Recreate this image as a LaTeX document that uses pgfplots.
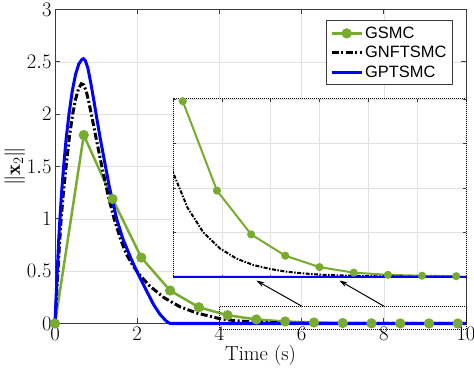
\documentclass[border=0pt]{standalone}
\usepackage{fontspec}
\usepackage{pgfplots}
\pgfplotsset{compat=1.18}
\usepackage{pgfplotstable}
\usetikzlibrary{arrows.meta}
\newfontfamily\legfont{Liberation Sans}
\definecolor{mgreen}{RGB}{119,172,48}
\definecolor{mblue}{RGB}{0,0,255}
\definecolor{gridc}{RGB}{225,225,225}
\definecolor{axc}{RGB}{60,60,60}

\pgfplotstableread{
x y
0 0
0.7 1.80
1.4 1.19
2.1 0.63
2.8 0.315
3.5 0.155
4.2 0.079
4.9 0.0388
5.6 0.0191
6.3 0.0095
7.0 0.0044
7.7 0.0019
8.4 0.0009
9.1 0.0005
9.8 0.0003
}\gsmc

\pgfplotstableread{
x y
0 0
0.05 0.35
0.1 0.70
0.15 1.00
0.2 1.23
0.27 1.50
0.35 1.78
0.43 2.00
0.5 2.14
0.57 2.24
0.64 2.29
0.7 2.28
0.76 2.22
0.82 2.12
0.9 1.97
1.0 1.77
1.14 1.50
1.3 1.21
1.44 1.00
1.6 0.80
1.74 0.66
1.9 0.55
2.07 0.46
2.3 0.36
2.64 0.25
3.04 0.16
3.45 0.10
4.0 0.047
4.3 0.031
4.62 0.020
4.96 0.0128
5.3 0.0082
5.65 0.0053
6.0 0.0035
6.33 0.0023
6.7 0.0015
7.0 0.0010
7.5 0.0006
8.0 0.0003
9.0 0.0001
10.0 0.00003
}\gnft

\pgfplotstableread{
x y
0 0
0.03 0.28
0.055 0.50
0.09 0.80
0.12 1.00
0.16 1.25
0.21 1.50
0.27 1.76
0.34 2.00
0.42 2.22
0.5 2.38
0.58 2.48
0.65 2.52
0.69 2.53
0.74 2.51
0.8 2.44
0.87 2.30
0.95 2.12
1.0 2.00
1.1 1.77
1.22 1.52
1.32 1.31
1.5 1.00
1.65 0.81
1.85 0.62
2.0 0.49
2.23 0.31
2.4 0.18
2.55 0.09
2.7 0.025
2.8 0
10 0
}\gpt

\pgfplotsset{
  legend image code/.code={\draw[mark repeat=2,mark phase=2,#1] plot coordinates {(0bp,0bp) (15bp,0bp) (30bp,0bp)};}
}

\begin{document}
\begin{tikzpicture}
\begin{axis}[
  name=main,
  width=411bp, height=314bp, scale only axis,
  xmin=0, xmax=10, ymin=0, ymax=3,
  xtick={0,2,4,6,8,10},
  ytick={0,0.5,1,1.5,2,2.5,3},
  grid=major,
  major grid style={gridc, line width=0.6bp},
  axis line style={axc, line width=0.8bp},
  tick style={axc, line width=0.8bp},
  tick align=inside, major tick length=5bp,
  clip=false,
  ticklabel style={font=\fontsize{20.5}{23}\selectfont},
  label style={font=\fontsize{20.5}{23}\selectfont},
  xlabel={Time (s)},
  ylabel={$\|\mathbf{x}_2\|$},
  xlabel style={yshift=2bp},
  ylabel style={yshift=-5bp},
  legend cell align=left,
  legend style={at={(0.968,0.965)}, anchor=north east,
    font=\legfont\fontsize{16.5}{19}\selectfont,
    draw=axc, line width=0.8bp, inner xsep=4bp, inner ysep=4bp,
    row sep=2.5bp},
]
\addplot[mgreen, line width=2.5bp, mark=*, mark size=3.8bp, mark options={fill=mgreen}] table {\gsmc};
\addlegendentry{GSMC}
\addplot[black, line width=3bp, dash pattern=on 7bp off 2.5bp on 2bp off 2.5bp] table {\gnft};
\addlegendentry{GNFTSMC}
\addplot[mblue, line width=3bp] table {\gpt};
\addlegendentry{GPTSMC}

\draw[black, line width=1bp, dash pattern=on 1bp off 1bp] (axis cs:4,-0.06) rectangle (axis cs:10,0.166);
\draw[-{Stealth[length=8bp,width=5bp]}, line width=1bp] (axis cs:6,0.166) -- (axis cs:4.9,0.41);
\draw[-{Stealth[length=8bp,width=5bp]}, line width=1bp] (axis cs:8,0.166) -- (axis cs:6.92,0.41);
\coordinate (insetpos) at (axis cs:2.871,0.435);
\end{axis}

\begin{axis}[
  at={(insetpos)}, anchor=south west,
  width=293bp, height=179bp, scale only axis,
  xmin=4, xmax=10, ymin=-0.0005, ymax=0.08,
  xtick={4,5,6,7,8,9,10},
  ytick={0,0.02,0.04,0.06,0.08},
  scaled y ticks=false, scaled x ticks=false,
  xticklabels={}, yticklabels={},
  grid=major,
  major grid style={gridc, line width=0.6bp},
  axis line style={black, line width=1bp, dash pattern=on 1bp off 1bp},
  tick style={axc, line width=0.6bp},
  tick align=inside, major tick length=3bp,
  axis background/.style={fill=white},
]
\addplot[mgreen, line width=2bp, mark=*, mark size=3bp, mark options={fill=mgreen}] table {\gsmc};
\addplot[black, line width=2bp, dash pattern=on 4bp off 1.5bp on 1.5bp off 1.5bp] table {\gnft};
\addplot[mblue, line width=2bp] table {\gpt};
\end{axis}

\pgfresetboundingbox
\path[use as bounding box] (main.south west) ++(-55bp,-50.5bp) rectangle ++(474bp,374bp);
\end{tikzpicture}
\end{document}
